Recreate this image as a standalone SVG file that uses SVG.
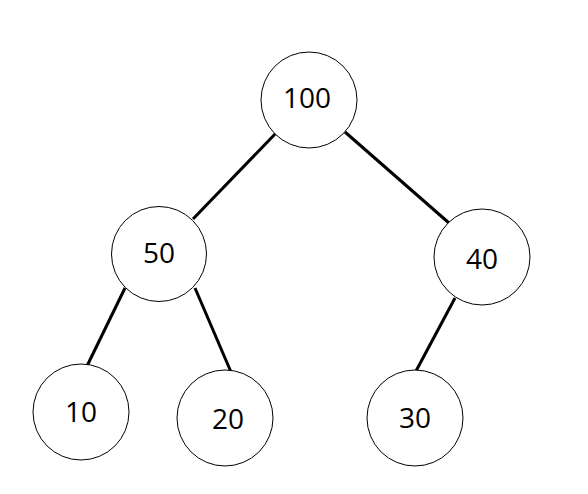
<svg xmlns="http://www.w3.org/2000/svg" width="588" height="494" viewBox="0 0 588 494">
<style>
.node circle{fill:#fff;stroke:#000;stroke-width:1}
.node text{font-family:"Open Sans","Liberation Sans",sans-serif;font-size:28px;fill:#000;text-anchor:middle}
#edges line{stroke:#000;stroke-width:3;stroke-linecap:butt}
</style>
<rect width="588" height="494" fill="#fff"/>
<g id="edges">
<line x1="277" y1="132" x2="193" y2="219"/>
<line x1="345" y1="132" x2="449" y2="223"/>
<line x1="125" y1="288" x2="87" y2="366"/>
<line x1="195" y1="288" x2="231" y2="372"/>
<line x1="455" y1="298" x2="416" y2="371"/>
</g>
<g id="n100" class="node"><circle cx="309" cy="100" r="48"/><text x="307" y="108">100</text></g>
<g id="n50" class="node"><circle cx="159" cy="254" r="47.5"/><text x="159" y="263">50</text></g>
<g id="n40" class="node"><circle cx="482" cy="257" r="48"/><text x="482" y="269">40</text></g>
<g id="n10" class="node"><circle cx="81" cy="412" r="48"/><text x="81" y="422">10</text></g>
<g id="n20" class="node"><circle cx="225" cy="418" r="48"/><text x="228" y="429">20</text></g>
<g id="n30" class="node"><circle cx="415" cy="418" r="48"/><text x="415" y="428">30</text></g>
</svg>
